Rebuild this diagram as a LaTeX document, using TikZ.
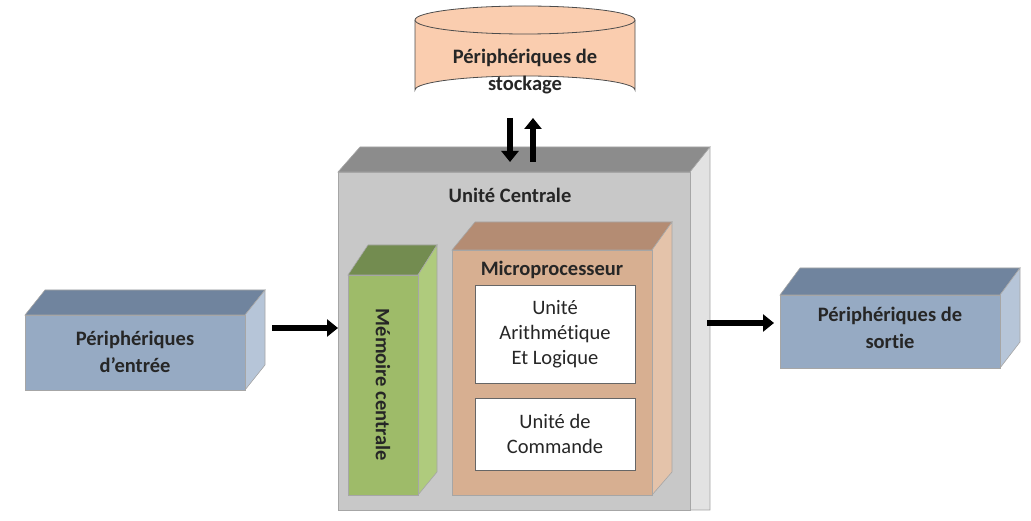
\documentclass[tikz,border=0pt]{standalone}
\usepackage{fontspec}
\setmainfont[Ligatures={NoCommon}]{Carlito}
\usetikzlibrary{shapes.geometric,arrows.meta}
\definecolor{peach}{RGB}{250,205,175}
\definecolor{gfront}{RGB}{200,200,200}
\definecolor{gtop}{RGB}{140,140,140}
\definecolor{gside}{RGB}{226,226,226}
\definecolor{mfront}{RGB}{158,187,105}
\definecolor{mtop}{RGB}{115,140,80}
\definecolor{mside}{RGB}{175,203,125}
\definecolor{pfront}{RGB}{215,175,145}
\definecolor{ptop}{RGB}{180,140,115}
\definecolor{pside}{RGB}{228,195,170}
\definecolor{bfront}{RGB}{150,170,195}
\definecolor{btop}{RGB}{112,132,158}
\definecolor{bside}{RGB}{182,197,216}
\begin{document}
\begin{tikzpicture}[x=1pt,y=-1pt,
  txt/.style={font=\fontsize{20.5}{27}\selectfont\bfseries,align=center,text=black!85},
  ntxt/.style={font=\fontsize{20.5}{25}\selectfont,align=center,text=black!85},
  arr/.style={line width=6pt,-{Triangle[length=11pt,width=17pt]}},
  face/.style={draw=black!35,line width=0.6pt}]
\useasboundingbox (0,0) rectangle (1031,521);
% cylinder
\fill[peach,draw=black!70,line width=0.8pt] (415,20) -- (415,90) arc[start angle=180,end angle=360,x radius=110,y radius=14] -- (635,20);
\filldraw[fill=peach,draw=black!70,line width=0.8pt] (525,20) ellipse[x radius=110,y radius=14];
\node[txt] (stock) at (525,72) {Périphériques de\\stockage};
% central unit
\fill[face,fill=gtop] (338,172) -- (360,147) -- (710,147) -- (690,172) -- cycle;
\fill[face,fill=gside] (690,172) -- (710,147) -- (710,510) -- (690,510) -- cycle;
\fill[face,fill=gfront] (338,172) rectangle (690,510);
\node[txt] (uc) at (510,195) {Unité Centrale};
\coordinate (sd1) at (510,118); \coordinate (sd2) at (510,162);
\coordinate (su1) at (533,162); \coordinate (su2) at (533,118);
\draw[arr] (sd1) -- (sd2);
\draw[arr] (su1) -- (su2);
% memoire
\fill[face,fill=mtop] (348,275) -- (368,245) -- (437,245) -- (418,275) -- cycle;
\fill[face,fill=mside] (418,275) -- (437,245) -- (437,472) -- (418,495) -- cycle;
\fill[face,fill=mfront] (348,275) rectangle (418,495);
\node[txt,rotate=-90] (mem) at (383,385) {Mémoire centrale};
% micro
\fill[face,fill=ptop] (452,250) -- (475,222) -- (672,222) -- (652,250) -- cycle;
\fill[face,fill=pside] (652,250) -- (672,222) -- (672,472) -- (652,495) -- cycle;
\fill[face,fill=pfront] (452,250) rectangle (652,495);
\node[txt] (mp) at (552,270) {Microprocesseur};
\node[ntxt,draw=black!60,fill=white,minimum width=160pt,minimum height=98pt] (ual) at (555,334) {Unité\\Arithmétique\\Et Logique};
\node[ntxt,draw=black!60,fill=white,minimum width=160pt,minimum height=72pt] (cmd) at (555,434) {Unité de\\Commande};
% left box
\fill[face,fill=btop] (25,315) -- (45,290) -- (265,290) -- (245,315) -- cycle;
\fill[face,fill=bside] (245,315) -- (265,290) -- (265,365) -- (245,390) -- cycle;
\fill[face,fill=bfront] (25,315) rectangle (245,390);
\node[txt] (in) at (135,352) {Périphériques\\d’entrée};
% right box
\fill[face,fill=btop] (780,295) -- (800,268) -- (1020,268) -- (1000,295) -- cycle;
\fill[face,fill=bside] (1000,295) -- (1020,268) -- (1020,342) -- (1000,368) -- cycle;
\fill[face,fill=bfront] (780,295) rectangle (1000,368);
\node[txt] (out) at (890,328) {Périphériques de\\sortie};
% arrows
\coordinate (a1) at (272,328); \coordinate (a2) at (338,328);
\coordinate (b1) at (707,323); \coordinate (b2) at (774,323);
\draw[arr] (a1) -- (a2);
\draw[arr] (b1) -- (b2);
\end{tikzpicture}
\end{document}
